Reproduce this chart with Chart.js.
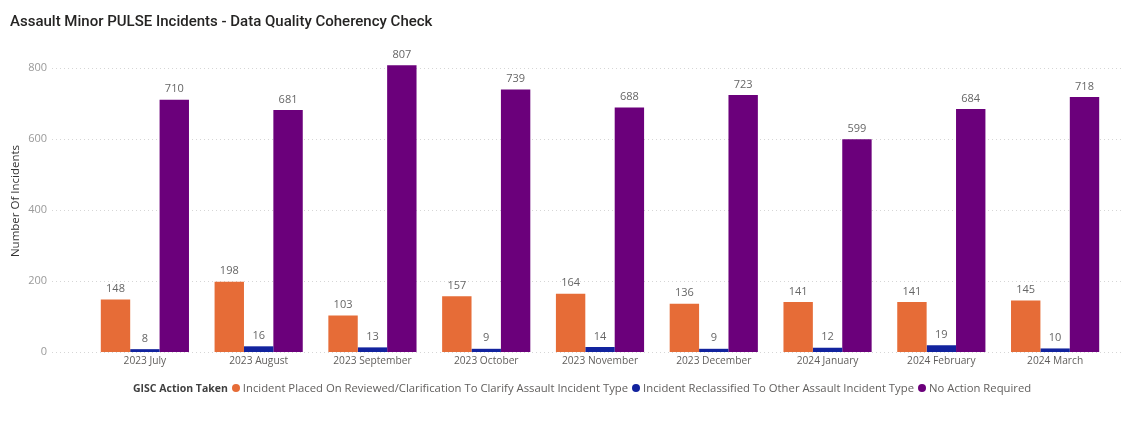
<!DOCTYPE html>
<html>
<head>
<meta charset="utf-8">
<script src="https://cdn.jsdelivr.net/npm/chart.js@4/dist/chart.umd.min.js"></script>
<style>
  html, body { margin: 0; padding: 0; background: #fff; }
  #wrap { position: relative; width: 1134px; height: 434px; overflow: hidden; }
  #title { position: absolute; left: 10px; top: 12px; font-family: Roboto, "Open Sans", sans-serif; font-size: 15px; font-weight: 500; color: #252423; white-space: nowrap; }
  #legend { position: absolute; left: 133px; top: 380px; font-family: "Open Sans", "Noto Sans", sans-serif; font-size: 11.3px; color: #605E5C; white-space: nowrap; display: flex; align-items: center; }
  #legend b { color: #404040; font-weight: 700; font-size: 10.5px; margin-right: 4px; }
  #legend .it { display: inline-flex; align-items: center; margin-right: 4px; }
  #legend .dot { width: 8px; height: 8px; border-radius: 50%; display: inline-block; margin-right: 3px; }
  canvas { position: absolute; left: 0; top: 0; }
</style>
</head>
<body>
<div id="wrap">
  <canvas id="c" width="1134" height="434"></canvas>
  <div id="title">Assault Minor PULSE Incidents - Data Quality Coherency Check</div>
  <div id="legend"></div>
</div>
<script>
const categories = ["2023 July","2023 August","2023 September","2023 October","2023 November","2023 December","2024 January","2024 February","2024 March"];
const seriesNames = ["Incident Placed On Reviewed/Clarification To Clarify Assault Incident Type","Incident Reclassified To Other Assault Incident Type","No Action Required"];
const reviewed = [148,198,103,157,164,136,141,141,145];
const reclassified = [8,16,13,9,14,9,12,19,10];
const noAction = [710,681,807,739,688,723,599,684,718];
const yTicks = [0,200,400,600,800];
const colors = ["#E66C37","#12239E","#6B007B"];
const legendTitle = "GISC Action Taken";
const yTitle = "Number Of Incidents";

// HTML legend
const lg = document.getElementById('legend');
lg.innerHTML = '<b>' + legendTitle + '</b>' + seriesNames.map((n,i)=>
  '<span class="it"><span class="dot" style="background:'+colors[i]+'"></span>'+n+'</span>').join('');

const gridPlugin = {
  id: 'extGrid',
  beforeDatasetsDraw(chart) {
    const y = chart.scales.y, ctx = chart.ctx;
    ctx.save();
    ctx.strokeStyle = '#d6d6d6';
    ctx.lineWidth = 1;
    ctx.setLineDash([1,3]);
    yTicks.forEach(v => {
      const py = Math.round(y.getPixelForValue(v)) + 0.5;
      ctx.beginPath(); ctx.moveTo(52, py); ctx.lineTo(1121, py); ctx.stroke();
    });
    ctx.restore();
  }
};
const labelPlugin = {
  id: 'valLabels',
  afterDatasetsDraw(chart) {
    const ctx = chart.ctx;
    ctx.save();
    ctx.font = '11px "Open Sans", sans-serif';
    ctx.fillStyle = '#666666';
    ctx.textAlign = 'center';
    ctx.textBaseline = 'bottom';
    chart.data.datasets.forEach((ds, di) => {
      chart.getDatasetMeta(di).data.forEach((bar, i) => {
        ctx.fillText(String(ds.data[i]), bar.x, bar.y - 5);
      });
    });
    ctx.restore();
  }
};

new Chart(document.getElementById('c'), {
  type: 'bar',
  data: {
    labels: categories,
    datasets: [
      { label: seriesNames[0], data: reviewed, backgroundColor: colors[0] },
      { label: seriesNames[1], data: reclassified, backgroundColor: colors[1] },
      { label: seriesNames[2], data: noAction, backgroundColor: colors[2] }
    ]
  },
  options: {
    responsive: false,
    animation: false,
    devicePixelRatio: 1,
    layout: { padding: { top: 50, right: 22, bottom: 60, left: 0 } },
    datasets: { bar: { barPercentage: 1.0, categoryPercentage: 0.775 } },
    plugins: { legend: { display: false }, tooltip: { enabled: false } },
    scales: {
      x: {
        grid: { display: false, drawTicks: false },
        border: { display: false },
        ticks: { color: '#605E5C', font: { family: '"Open Sans", sans-serif', size: 10.2 }, padding: 3, maxRotation: 0, autoSkip: false },
        afterFit(s) { s.height = 22; }
      },
      y: {
        min: 0, max: 850,
        afterBuildTicks(s) { s.ticks = yTicks.map(v => ({ value: v })); },
        grid: { display: false, drawTicks: false },
        border: { display: false },
        ticks: { color: '#9a9a9a', font: { family: '"Open Sans", sans-serif', size: 11 }, padding: 41 },
        title: { display: true, text: yTitle, color: '#333333', font: { family: '"Open Sans", sans-serif', size: 11.5 }, padding: { top: 9, bottom: 0 } },
        afterFit(s) { s.width = 88; }
      }
    }
  },
  plugins: [gridPlugin, labelPlugin]
});
</script>
</body>
</html>
